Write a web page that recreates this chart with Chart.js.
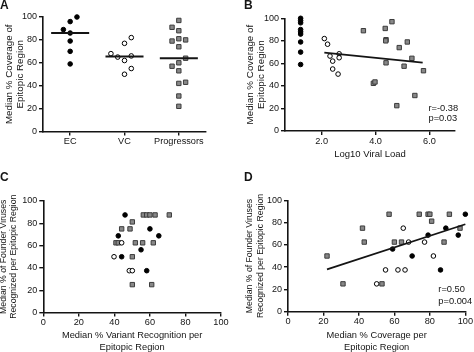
<!DOCTYPE html>
<html>
<head>
<meta charset="utf-8">
<script src="https://cdn.jsdelivr.net/npm/chart.js@4.4.0/dist/chart.umd.min.js"></script>
<style>
    body { margin: 0; background: #fff; }
    #figure { position: relative; width: 474px; height: 352px; overflow: hidden; }
    #figure canvas { position: absolute; left: 0; top: 0; }
</style>
</head>
<body>
<div id="figure">
    <canvas id="panelA" width="474" height="352"></canvas>
    <canvas id="panelB" width="474" height="352"></canvas>
    <canvas id="panelC" width="474" height="352"></canvas>
    <canvas id="panelD" width="474" height="352"></canvas>
</div>
<script>
// Panel A - coverage per group (jitter = column offset inside the group)
const groups = ['EC', 'VC', 'Progressors'];
const ecCoverage = [100, 96, 89, 86, 79, 70, 59];
const ecJitter = [1, 0, -1, 0, 0, 0, 0];
const vcCoverage = [82, 77, 68, 66, 65, 62, 55, 50];
const vcJitter = [1, 0, -2, 1, -1, 0, 1, 0];
const progCoverage = [97, 91, 88, 81, 80, 79, 74, 64, 60, 57, 53, 43, 42, 31, 22];
const progJitter = [0, -1, 0, 0, 1, -1, 0, 1, 0, -1, 0, 1, 0, 0, 0];
const groupMedians = [86, 65.5, 64];
const coverageTicks = [0, 20, 40, 60, 80, 100];

// Panel B - coverage vs log10 viral load
const ecViralLoad = [1.22, 1.22, 1.22, 1.22, 1.22, 1.22, 1.22, 1.22, 1.22];
const ecCoverageB = [100, 98, 96, 90, 88, 86, 79, 70, 59];
const vcViralLoad = [2.1, 2.22, 2.31, 2.41, 2.41, 2.61, 2.65, 2.65];
const vcCoverageB = [82, 77, 66.5, 62, 55, 50.5, 68.5, 65];
const progViralLoad = [3.55, 4.36, 4.61, 4.39, 4.38, 5.18, 4.88, 5.35, 4.39, 5.06, 5.78, 3.92, 3.98, 5.46, 4.79];
const progCoverageB = [89, 91, 97, 81, 80, 79, 74, 64.5, 60.5, 57.5, 53.5, 42.3, 43.5, 31.5, 22.5];
const viralLoadTicks = [2, 4, 6];
const viralLoadFit = { slope: -2.43, intercept: 74.65, from: 2.1, to: 5.75 };
const viralLoadStats = ['r=-0.38', 'p=0.03'];

// Panel C - founder viruses recognized vs variant recognition
const ecVariant = [46, 60, 42.2, 65, 55, 44.1, 58.2];
const ecFounderC = [87.5, 75, 68.75, 68.75, 56.25, 50, 37.5];
const vcVariant = [39.8, 44.1, 48.4, 50.1];
const vcFounderC = [50, 62.5, 37.5, 37.5];
const progVariant = [56.3, 58.2, 60, 62.9, 70.9, 50.1, 44.1, 48.8, 40.9, 42.2, 51.8, 55.9, 61.9, 50.1, 50.1, 61];
const progFounderC = [87.5, 87.5, 87.5, 87.5, 87.5, 81.25, 75, 75, 62.5, 62.5, 62.5, 62.5, 62.5, 50, 25, 25];
const percentTicks = [0, 20, 40, 60, 80, 100];

// Panel D - founder viruses recognized vs coverage
const ecCoverageD = [100, 89, 79, 96, 59, 70, 86];
const ecFounderD = [87.5, 75, 68.75, 68.75, 56.25, 50, 37.5];
const vcCoverageD = [65, 68, 77, 82, 55, 62, 66, 50];
const vcFounderD = [75, 62.5, 62.5, 50, 37.5, 37.5, 37.5, 25];
const progCoverageD = [22, 31, 42, 43, 57, 60, 64, 53, 74, 79, 80, 81, 91, 88, 97];
const progFounderD = [50, 25, 75, 62.5, 87.5, 62.5, 62.5, 25, 87.5, 87.5, 87.5, 81.25, 87.5, 62.5, 75];
const coverageFit = { slope: 0.52, intercept: 26.5, from: 22, to: 100 };
const coverageStats = ['r=0.50', 'p=0.004'];

const INK = '#141414';
const FONT = '"Liberation Sans", Arial, Helvetica, sans-serif';
const JITTER_STEP = 0.125;
const MEDIAN_HALF = 0.35;

const markers = {
    ec: { pointStyle: 'circle', pointRadius: 2.3, pointBackgroundColor: '#000', pointBorderColor: '#000', pointBorderWidth: 1 },
    vc: { pointStyle: 'circle', pointRadius: 2.3, pointBackgroundColor: '#fff', pointBorderColor: '#000', pointBorderWidth: 1 },
    prog: { pointStyle: 'rect', pointRadius: 3.1, pointBackgroundColor: '#888', pointBorderColor: '#3c3c3c', pointBorderWidth: 1 }
};

// letters and r/p notes
const panelText = {
    id: 'panelText',
    afterDraw(chart, args, opts) {
        const ctx = chart.ctx;
        const area = chart.chartArea;
        ctx.save();
        ctx.fillStyle = INK;
        ctx.textAlign = 'left';
        ctx.textBaseline = 'alphabetic';
        ctx.font = `bold 12px ${FONT}`;
        ctx.fillText(opts.letter, opts.letterX, opts.letterY);
        if (opts.stats) {
            ctx.font = `9.3px ${FONT}`;
            ctx.textBaseline = 'middle';
            opts.stats.forEach((s, i) => {
                ctx.fillText(s, area.right + opts.statsDx, area.bottom + opts.statsDy + i * opts.statsGap);
            });
        }
        ctx.restore();
    }
};

function points(xs, ys) {
    return xs.map((x, i) => ({ x: x, y: ys[i] }));
}

function jittered(groupIndex, values, jitter) {
    return values.map((v, i) => ({ x: groupIndex + 1 + jitter[i] * JITTER_STEP, y: v }));
}

function scatterSet(data, style) {
    return Object.assign({ type: 'scatter', data: data, clip: false }, style);
}

function segment(data, width) {
    return { type: 'line', data: data, borderColor: INK, borderWidth: width, pointRadius: 0, fill: false, clip: false };
}

function fitLine(fit) {
    return segment([
        { x: fit.from, y: fit.intercept + fit.slope * fit.from },
        { x: fit.to, y: fit.intercept + fit.slope * fit.to }
    ], 1.8);
}

function axis(o) {
    return {
        type: 'linear',
        bounds: 'data',
        min: o.min,
        max: o.max,
        afterBuildTicks: (s) => { s.ticks = o.ticks.map(v => ({ value: v })); },
        afterFit: (s) => { if (s.isHorizontal()) s.height = o.size; else s.width = o.size; },
        grid: { display: true, drawOnChartArea: false, drawTicks: true, tickLength: 4, color: INK, lineWidth: 1.4 },
        border: { display: true, color: INK, width: 1.6 },
        ticks: {
            color: INK,
            autoSkip: false,
            maxRotation: 0,
            padding: o.tickPad,
            font: { family: FONT, size: o.tickSize, lineHeight: 1.1 },
            callback: o.label || ((v) => String(v))
        },
        title: o.title ? {
            display: true,
            text: o.title,
            color: INK,
            font: { family: FONT, size: o.titleSize, lineHeight: o.titleLine },
            padding: o.titlePad
        } : { display: false }
    };
}

function makeChart(id, datasets, scales, padding, text) {
    return new Chart(document.getElementById(id), {
        type: 'scatter',
        data: { datasets: datasets },
        options: {
            responsive: false,
            animation: false,
            devicePixelRatio: 1,
            events: [],
            layout: { padding: padding },
            scales: scales,
            plugins: { legend: { display: false }, tooltip: { enabled: false }, panelText: text }
        },
        plugins: [panelText]
    });
}

const yCoverageTitle = ['Median % Coverage of', 'Epitopic Region'];
const yFounderTitle = ['Median % of Founder Viruses', 'Recognized per Epitopic Region'];

// A
makeChart('panelA', [
    ...groupMedians.map((m, i) => segment([{ x: i + 1 - MEDIAN_HALF, y: m }, { x: i + 1 + MEDIAN_HALF, y: m }], 1.9)),
    scatterSet(jittered(0, ecCoverage, ecJitter), markers.ec),
    scatterSet(jittered(1, vcCoverage, vcJitter), markers.vc),
    scatterSet(jittered(2, progCoverage, progJitter), markers.prog)
], {
    x: axis({ min: 0.5, max: 3.5, ticks: [1, 2, 3], size: 44.5, tickPad: 1, tickSize: 9.2, label: (v) => groups[Math.round(v) - 1] }),
    y: axis({ min: 0, max: 100, ticks: coverageTicks, size: 43, tickPad: 2, tickSize: 9,
        title: yCoverageTitle, titleSize: 9.8, titleLine: 1.1, titlePad: { top: 4.1, bottom: 0 } })
}, { left: 0, top: 17, right: 268, bottom: 176 }, { letter: 'A', letterX: 0, letterY: 9 });

// B
makeChart('panelB', [
    fitLine(viralLoadFit),
    scatterSet(points(ecViralLoad, ecCoverageB), markers.ec),
    scatterSet(points(vcViralLoad, vcCoverageB), markers.vc),
    scatterSet(points(progViralLoad, progCoverageB), markers.prog)
], {
    x: axis({ min: 0.64, max: 6.95, ticks: viralLoadTicks, size: 45, tickPad: 1, tickSize: 9.2, label: (v) => v.toFixed(1),
        title: 'Log10 Viral Load', titleSize: 9.5, titleLine: 1.1, titlePad: { top: 0, bottom: 16.8 } }),
    y: axis({ min: 0, max: 100, ticks: coverageTicks, size: 48, tickPad: 2, tickSize: 9,
        title: yCoverageTitle, titleSize: 9.8, titleLine: 1.1, titlePad: { top: 7.9, bottom: 0 } })
}, { left: 237, top: 18.3, right: 19, bottom: 176 },
{ letter: 'B', letterX: 244, letterY: 9, stats: viralLoadStats, statsDx: -26.5, statsDy: -22.3, statsGap: 10 });

// C
makeChart('panelC', [
    scatterSet(points(ecVariant, ecFounderC), markers.ec),
    scatterSet(points(vcVariant, vcFounderC), markers.vc),
    scatterSet(points(progVariant, progFounderC), markers.prog)
], {
    x: axis({ min: 0, max: 100, ticks: percentTicks, size: 39.5, tickPad: 1, tickSize: 9.2,
        title: ['Median % Variant Recognition per', 'Epitopic Region'], titleSize: 9.3, titleLine: 1.2, titlePad: { top: 0, bottom: -0.6 } }),
    y: axis({ min: 0, max: 100, ticks: percentTicks, size: 43.3, tickPad: 2, tickSize: 9,
        title: yFounderTitle, titleSize: 8.7, titleLine: 1.15, titlePad: { top: -1.7, bottom: 0 } })
}, { left: 0, top: 201, right: 253, bottom: 0 }, { letter: 'C', letterX: 0, letterY: 180.5 });

// D
makeChart('panelD', [
    fitLine(coverageFit),
    scatterSet(points(ecCoverageD, ecFounderD), markers.ec),
    scatterSet(points(vcCoverageD, vcFounderD), markers.vc),
    scatterSet(points(progCoverageD, progFounderD), markers.prog)
], {
    x: axis({ min: 0, max: 100, ticks: percentTicks, size: 40.3, tickPad: 1, tickSize: 9.2,
        title: ['Median % Coverage per', 'Epitopic Region'], titleSize: 9.3, titleLine: 1.2, titlePad: { top: 0, bottom: -0.6 } }),
    y: axis({ min: 0, max: 100, ticks: percentTicks, size: 51, tickPad: 2, tickSize: 9,
        title: yFounderTitle, titleSize: 8.7, titleLine: 1.22, titlePad: { top: 7.4, bottom: 0 } })
}, { left: 237, top: 200.3, right: 7, bottom: 0 },
{ letter: 'D', letterX: 244, letterY: 180.5, stats: coverageStats, statsDx: -27, statsDy: -22.7, statsGap: 12 });
</script>
</body>
</html>
